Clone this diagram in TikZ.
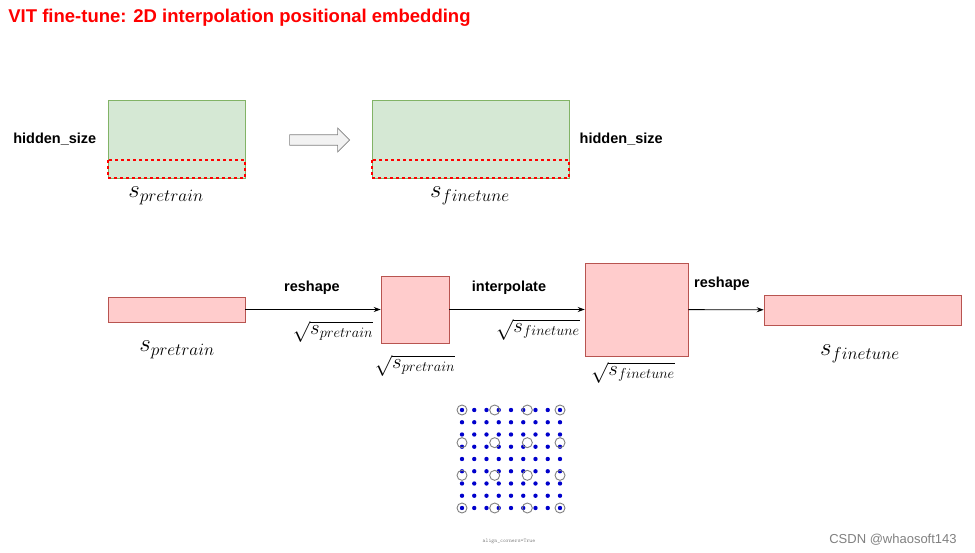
\documentclass[tikz,border=0pt]{standalone}
\usepackage{fontspec}
\setmainfont{Liberation Sans}
\usepackage{amsmath}
\usetikzlibrary{shapes.arrows,arrows.meta}
\definecolor{greenfill}{HTML}{D5E8D4}
\definecolor{greenline}{HTML}{82B366}
\definecolor{pinkfill}{HTML}{FFCCCC}
\definecolor{pinkline}{HTML}{B85450}
\begin{document}
\begin{tikzpicture}[x=1pt,y=-1pt,>=stealth,thick,
    green box/.style={draw=greenline,fill=greenfill,line width=0.6pt},
    pink box/.style={draw=pinkline,fill=pinkfill,line width=0.6pt},
    dash box/.style={draw=red,dashed,line width=1.2pt},
    bold label/.style={font=\bfseries\fontsize{14.5}{17}\selectfont},
    math label/.style={font=\fontsize{25}{28}\selectfont},
    root label/.style={font=\fontsize{20}{22}\selectfont}]

    \useasboundingbox (0,0) rectangle (975,553);
    \node[anchor=west,text=red,font=\bfseries\fontsize{18.5}{21}\selectfont,inner sep=0pt] (title) at (8,18) {VIT fine-tune: 2D interpolation positional embedding};

    % top row
    \draw[green box] (108,100) rectangle (245,178);
    \draw[dash box] (108,160) rectangle (245,178);
    \node[bold label,anchor=east] (hid1) at (100,139) {hidden\_size};
    \node[math label] (sp1) at (166,196) {$s_{pretrain}$};
    \node[single arrow,draw=gray,fill=gray!10,line width=0.6pt,minimum height=60pt,minimum width=24pt,single arrow head extend=3pt,inner sep=2pt] (big) at (317,140) {};
    \draw[green box] (372,100) rectangle (569,178);
    \draw[dash box] (372,160) rectangle (569,178);
    \node[bold label,anchor=west] (hid2) at (576,139) {hidden\_size};
    \node[math label] (sf1) at (470,196) {$s_{finetune}$};

    % bottom row
    \node[pink box,minimum width=137pt,minimum height=25pt,inner sep=0pt] (r1) at (176.5,309.5) {};
    \node[pink box,minimum width=68pt,minimum height=67pt,inner sep=0pt] (r2) at (415,309.5) {};
    \node[pink box,minimum width=103pt,minimum height=93pt,inner sep=0pt] (r3) at (636.5,309.5) {};
    \node[pink box,minimum width=197pt,minimum height=30pt,inner sep=0pt] (r4) at (862.5,310) {};
    \draw[-{Stealth[length=7pt,width=5pt]},line width=0.8pt] (r1) -- (r2);
    \draw[-{Stealth[length=7pt,width=5pt]},line width=0.8pt] (r2) -- (r3);
    \draw[-{Stealth[length=7pt,width=5pt]},line width=0.8pt] (r3) -- (r4);
    \node[bold label] (re1) at (312,288) {reshape};
    \node[bold label] (int) at (509,288) {interpolate};
    \node[bold label] (re2) at (722,284) {reshape};
    \node[math label] (sp2) at (177,350) {$s_{pretrain}$};
    \node[root label] (q1) at (333,332) {$\sqrt{s_{pretrain}}$};
    \node[root label] (q2) at (415,366) {$\sqrt{s_{pretrain}}$};
    \node[root label] (q3) at (538,330) {$\sqrt{s_{finetune}}$};
    \node[root label] (q4) at (633,373) {$\sqrt{s_{finetune}}$};
    \node[math label] (sf2) at (860,354) {$s_{finetune}$};

    % grid of samples
    \foreach \i in {0,...,8}
        \foreach \j in {0,...,8}
            \fill[blue!80!black] (462+12.25*\i,410+12.25*\j) circle (2.2pt);
    \foreach \i in {0,...,3}
        \foreach \j in {0,...,3}
            \draw[gray,line width=0.9pt] (462+32.67*\i,410+32.67*\j) circle (5pt);
    \node[font=\fontsize{5.5}{6}\selectfont\ttfamily,text=gray] (ac) at (509,541) {align\_corners=True};
    \node[font=\fontsize{13}{15}\selectfont,text=gray] (wm) at (893,540) {CSDN @whaosoft143};
\end{tikzpicture}
\end{document}
